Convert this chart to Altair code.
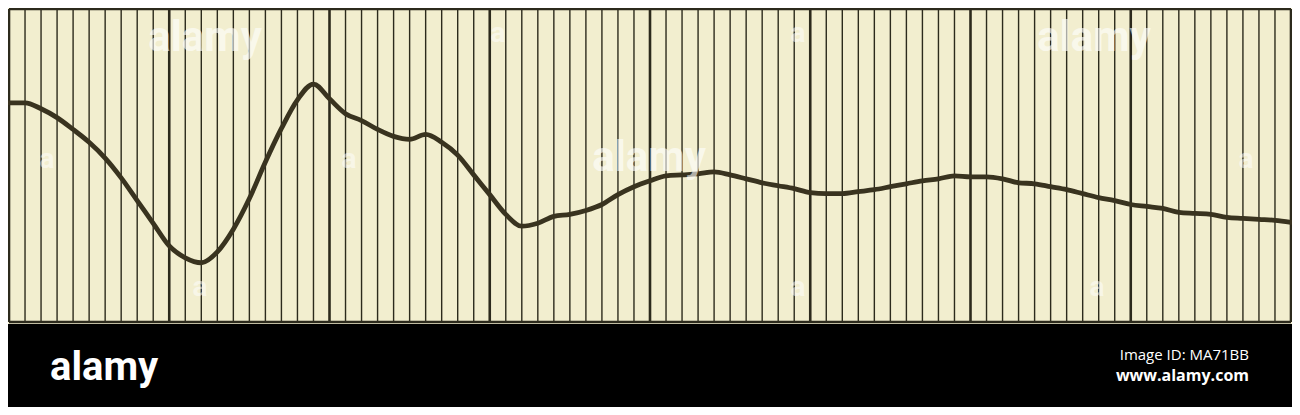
import altair as alt
import pandas as pd

# ---- data ----
ticks = list(range(81))  # 80 time divisions, heavy line every 10
trace = [222, 222, 216, 207, 195, 182, 166, 146, 123, 100,
         77, 65, 60, 71, 94, 125, 162, 196, 225, 241,
         226, 211, 204, 195, 188, 185, 190, 182, 169, 149,
         129, 109, 97, 100, 107, 109, 113, 119, 129, 137,
         143, 148, 149, 150, 152, 149, 145, 141, 138, 135,
         131, 130, 130, 132, 134, 137, 140, 143, 145, 148,
         147, 147, 145, 141, 140, 137, 134, 130, 126, 123,
         119, 117, 115, 111, 110, 109, 106, 105, 104, 103,
         101]
frame_lo, frame_hi = 0, 317

wm_big_text = ["alamy", "alamy", "alamy"]
wm_big_x = [197, 1086, 641]
wm_big_y = [30, 30, 150]
wm_small_x = [39, 341, 1238, 490, 790, 192, 790, 1089]
wm_small_y = [152, 152, 152, 26, 26, 280, 280, 280]

W, H = 1284, 399
CREAM = "#f2eecf"
INK = "#2c2a1c"
CURVE = "#39331f"
LOGO_FONT = "Roboto, Liberation Sans Narrow, sans-serif"

xs = alt.Scale(domain=[0, 80], range=[1, 1283])
ys = alt.Scale(domain=[frame_lo, frame_hi], range=[314, 1])
px_x = alt.Scale(domain=[0, W], range=[0, W])
px_y = alt.Scale(domain=[0, H], range=[0, H])

grid = pd.DataFrame({"t": ticks, "lo": frame_lo, "hi": frame_hi})
grid["major"] = [t % 10 == 0 for t in ticks]
minor_df = grid[~grid["major"]]
major_df = grid[grid["major"]]
curve_df = pd.DataFrame({"t": ticks, "v": trace})
border_df = pd.DataFrame({"y": [frame_lo, frame_hi], "x0": [0, 0], "x1": [80, 80]})

minor = alt.Chart(minor_df).mark_rule(color=INK, strokeWidth=1.4).encode(
    x=alt.X("t:Q", scale=xs, axis=None),
    y=alt.Y("lo:Q", scale=ys, axis=None),
    y2="hi:Q",
)
major = alt.Chart(major_df).mark_rule(color=INK, strokeWidth=2.6).encode(
    x=alt.X("t:Q", scale=xs, axis=None),
    y=alt.Y("lo:Q", scale=ys, axis=None),
    y2="hi:Q",
)
borders = alt.Chart(border_df).mark_rule(color=INK, strokeWidth=2.6).encode(
    x=alt.X("x0:Q", scale=xs, axis=None),
    x2="x1:Q",
    y=alt.Y("y:Q", scale=ys, axis=None),
)
curve = alt.Chart(curve_df).mark_line(
    color=CURVE, strokeWidth=4.8, interpolate="monotone", strokeCap="round"
).encode(
    x=alt.X("t:Q", scale=xs, axis=None),
    y=alt.Y("v:Q", scale=ys, axis=None),
)

wm_big_df = pd.DataFrame({"txt": wm_big_text, "px": wm_big_x, "py": wm_big_y})
wm_big = alt.Chart(wm_big_df).mark_text(
    color="white", opacity=0.6, fontSize=42, fontWeight="bold",
    font=LOGO_FONT, align="center", baseline="middle",
).encode(
    x=alt.X("px:Q", scale=px_x, axis=None),
    y=alt.Y("py:Q", scale=px_y, axis=None),
    text="txt:N",
)
wm_small_df = pd.DataFrame({"txt": ["a"] * len(wm_small_x), "px": wm_small_x, "py": wm_small_y})
wm_small = alt.Chart(wm_small_df).mark_text(
    color="white", opacity=0.5, fontSize=28, fontWeight="bold",
    font=LOGO_FONT, align="center", baseline="middle",
).encode(
    x=alt.X("px:Q", scale=px_x, axis=None),
    y=alt.Y("py:Q", scale=px_y, axis=None),
    text="txt:N",
)

band_df = pd.DataFrame({"k": [0]})
band = alt.Chart(band_df).mark_rect(color="black").encode(
    x=alt.value(0), x2=alt.value(W), y=alt.value(316), y2=alt.value(H)
)
logo = alt.Chart(band_df).mark_text(
    text="alamy", color="white", fontSize=40, fontWeight="bold",
    font=LOGO_FONT, align="left", baseline="alphabetic",
).encode(x=alt.value(42), y=alt.value(372))
img_id = alt.Chart(band_df).mark_text(
    text="Image ID: MA71BB", color="white", fontSize=15,
    font="Open Sans, sans-serif", align="right", baseline="alphabetic",
).encode(x=alt.value(1241), y=alt.value(352))
www = alt.Chart(band_df).mark_text(
    text="www.alamy.com", color="white", fontSize=16, fontWeight="bold",
    font="Open Sans, sans-serif", align="right", baseline="alphabetic",
).encode(x=alt.value(1241), y=alt.value(373))

chart = alt.layer(
    minor, major, borders, curve, wm_small, wm_big, band, logo, img_id, www
).resolve_scale(x="independent", y="independent").properties(
    width=W, height=H, padding=0, autosize="none", background=CREAM
).configure_view(stroke=None)

chart.save("out.html", embed_options={"renderer": "svg", "actions": False})
